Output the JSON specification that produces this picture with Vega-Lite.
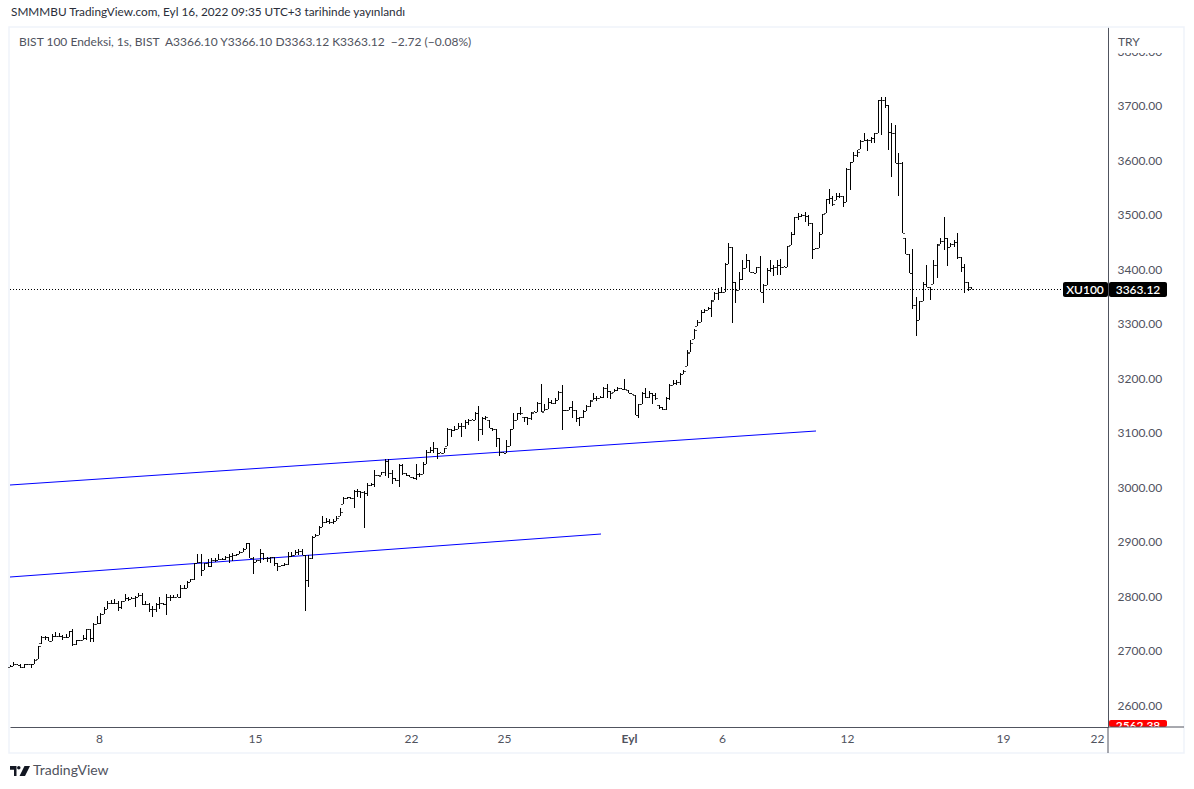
{
  "$schema": "https://vega.github.io/schema/vega-lite/v6.json",
  "width": 1098,
  "height": 700,
  "autosize": {"type": "none"},
  "padding": {"left": 10, "top": 27, "right": 86, "bottom": 62},
  "background": "#ffffff",
  "title": {
    "text": "SMMMBU TradingView.com, Eyl 16, 2022 09:35 UTC+3 tarihinde yayınlandı",
    "anchor": "start",
    "frame": "group",
    "font": "Lato",
    "fontSize": 11.8,
    "fontWeight": "normal",
    "color": "#2a2e39",
    "offset": 7,
    "dx": 1
  },
  "config": {"view": {"stroke": null}, "text": {"font": "Lato"}},
  "datasets": {
    "bars": [
      {"i":0,"o":2670,"h":2673,"l":2670,"c":2672},{"i":1,"o":2672,"h":2679,"l":2671,"c":2675},{"i":2,"o":2675,"h":2676,"l":2673,"c":2674},{"i":3,"o":2674,"h":2675,"l":2668,"c":2669},{"i":4,"o":2669,"h":2676,"l":2668,"c":2675},{"i":5,"o":2675,"h":2676,"l":2673,"c":2675},{"i":6,"o":2675,"h":2676,"l":2668,"c":2675},{"i":7,"o":2675,"h":2684,"l":2675,"c":2682},{"i":8,"o":2685,"h":2708,"l":2685,"c":2708},{"i":9,"o":2713,"h":2727,"l":2712,"c":2724},
      {"i":10,"o":2724,"h":2727,"l":2720,"c":2724},{"i":11,"o":2724,"h":2724,"l":2717,"c":2718},{"i":12,"o":2718,"h":2730,"l":2718,"c":2727},{"i":13,"o":2727,"h":2733,"l":2725,"c":2727},{"i":14,"o":2727,"h":2732,"l":2725,"c":2727},{"i":15,"o":2727,"h":2728,"l":2720,"c":2724},{"i":16,"o":2724,"h":2730,"l":2722,"c":2725},{"i":17,"o":2725,"h":2736,"l":2724,"c":2736},{"i":18,"o":2736,"h":2739,"l":2708,"c":2712},{"i":19,"o":2712,"h":2720,"l":2710,"c":2719},
      {"i":20,"o":2719,"h":2720,"l":2718,"c":2719},{"i":21,"o":2719,"h":2728,"l":2719,"c":2722},{"i":22,"o":2722,"h":2739,"l":2720,"c":2739},{"i":23,"o":2739,"h":2739,"l":2716,"c":2722},{"i":24,"o":2722,"h":2750,"l":2716,"c":2749},{"i":25,"o":2749,"h":2763,"l":2749,"c":2750},{"i":26,"o":2750,"h":2768,"l":2749,"c":2767},{"i":27,"o":2767,"h":2779,"l":2767,"c":2777},{"i":28,"o":2777,"h":2790,"l":2776,"c":2788},{"i":29,"o":2788,"h":2793,"l":2785,"c":2788},
      {"i":30,"o":2788,"h":2794,"l":2785,"c":2788},{"i":31,"o":2788,"h":2790,"l":2773,"c":2780},{"i":32,"o":2780,"h":2791,"l":2777,"c":2790},{"i":33,"o":2790,"h":2804,"l":2790,"c":2796},{"i":34,"o":2796,"h":2798,"l":2790,"c":2794},{"i":35,"o":2794,"h":2798,"l":2794,"c":2796},{"i":36,"o":2796,"h":2800,"l":2780,"c":2798},{"i":37,"o":2798,"h":2806,"l":2798,"c":2802},{"i":38,"o":2802,"h":2805,"l":2783,"c":2785},{"i":39,"o":2785,"h":2791,"l":2783,"c":2785},
      {"i":40,"o":2785,"h":2787,"l":2771,"c":2777},{"i":41,"o":2777,"h":2782,"l":2762,"c":2777},{"i":42,"o":2777,"h":2787,"l":2771,"c":2785},{"i":43,"o":2785,"h":2798,"l":2777,"c":2787},{"i":44,"o":2787,"h":2788,"l":2783,"c":2785},{"i":45,"o":2785,"h":2804,"l":2766,"c":2798},{"i":46,"o":2798,"h":2802,"l":2791,"c":2798},{"i":47,"o":2798,"h":2802,"l":2796,"c":2798},{"i":48,"o":2798,"h":2804,"l":2798,"c":2799},{"i":49,"o":2799,"h":2820,"l":2796,"c":2814},
      {"i":50,"o":2814,"h":2820,"l":2812,"c":2814},{"i":51,"o":2814,"h":2828,"l":2814,"c":2826},{"i":52,"o":2826,"h":2831,"l":2826,"c":2831},{"i":53,"o":2831,"h":2861,"l":2829,"c":2860},{"i":54,"o":2860,"h":2877,"l":2860,"c":2863},{"i":55,"o":2863,"h":2877,"l":2836,"c":2848},{"i":56,"o":2848,"h":2861,"l":2847,"c":2860},{"i":57,"o":2860,"h":2867,"l":2853,"c":2855},{"i":58,"o":2855,"h":2869,"l":2853,"c":2866},{"i":59,"o":2866,"h":2869,"l":2863,"c":2866},
      {"i":60,"o":2866,"h":2877,"l":2866,"c":2867},{"i":61,"o":2867,"h":2869,"l":2866,"c":2867},{"i":62,"o":2867,"h":2873,"l":2866,"c":2871},{"i":63,"o":2871,"h":2877,"l":2860,"c":2873},{"i":64,"o":2873,"h":2878,"l":2865,"c":2875},{"i":65,"o":2875,"h":2877,"l":2873,"c":2877},{"i":66,"o":2877,"h":2883,"l":2877,"c":2881},{"i":67,"o":2881,"h":2888,"l":2881,"c":2886},{"i":68,"o":2886,"h":2897,"l":2886,"c":2897},{"i":69,"o":2897,"h":2897,"l":2869,"c":2869},
      {"i":70,"o":2869,"h":2871,"l":2840,"c":2863},{"i":71,"o":2863,"h":2866,"l":2863,"c":2866},{"i":72,"o":2866,"h":2886,"l":2861,"c":2878},{"i":73,"o":2878,"h":2878,"l":2866,"c":2869},{"i":74,"o":2869,"h":2872,"l":2863,"c":2869},{"i":75,"o":2869,"h":2871,"l":2861,"c":2871},{"i":76,"o":2871,"h":2872,"l":2855,"c":2860},{"i":77,"o":2860,"h":2861,"l":2845,"c":2855},{"i":78,"o":2855,"h":2857,"l":2855,"c":2856},{"i":79,"o":2856,"h":2860,"l":2855,"c":2858},
      {"i":80,"o":2858,"h":2880,"l":2857,"c":2873},{"i":81,"o":2873,"h":2881,"l":2871,"c":2875},{"i":82,"o":2875,"h":2884,"l":2875,"c":2881},{"i":83,"o":2881,"h":2886,"l":2875,"c":2883},{"i":84,"o":2883,"h":2886,"l":2875,"c":2875},{"i":85,"o":2875,"h":2875,"l":2773,"c":2829},{"i":86,"o":2829,"h":2875,"l":2816,"c":2869},{"i":87,"o":2869,"h":2910,"l":2867,"c":2909},{"i":88,"o":2909,"h":2914,"l":2908,"c":2912},{"i":89,"o":2912,"h":2929,"l":2912,"c":2927},
      {"i":90,"o":2927,"h":2946,"l":2927,"c":2936},{"i":91,"o":2936,"h":2943,"l":2933,"c":2938},{"i":92,"o":2938,"h":2941,"l":2932,"c":2936},{"i":93,"o":2936,"h":2941,"l":2932,"c":2938},{"i":94,"o":2938,"h":2946,"l":2938,"c":2944},{"i":95,"o":2947,"h":2961,"l":2947,"c":2955},{"i":96,"o":2969,"h":2982,"l":2969,"c":2979},{"i":97,"o":2979,"h":2982,"l":2978,"c":2981},{"i":98,"o":2981,"h":2982,"l":2978,"c":2979},{"i":99,"o":2979,"h":2995,"l":2961,"c":2992},
      {"i":100,"o":2992,"h":2996,"l":2982,"c":2993},{"i":101,"o":2992,"h":2992,"l":2979,"c":2990},{"i":102,"o":2990,"h":2992,"l":2925,"c":2989},{"i":103,"o":2989,"h":3007,"l":2984,"c":3004},{"i":104,"o":3004,"h":3008,"l":3001,"c":3006},{"i":105,"o":3006,"h":3032,"l":3000,"c":3022},{"i":106,"o":3022,"h":3022,"l":3020,"c":3021},{"i":107,"o":3022,"h":3028,"l":3022,"c":3028},{"i":108,"o":3028,"h":3051,"l":3020,"c":3048},{"i":109,"o":3048,"h":3051,"l":3016,"c":3026},
      {"i":110,"o":3026,"h":3031,"l":3006,"c":3016},{"i":111,"o":3016,"h":3016,"l":3011,"c":3013},{"i":112,"o":3013,"h":3042,"l":3000,"c":3040},{"i":113,"o":3040,"h":3043,"l":3022,"c":3025},{"i":114,"o":3025,"h":3025,"l":3020,"c":3022},{"i":115,"o":3022,"h":3022,"l":3018,"c":3019},{"i":116,"o":3019,"h":3019,"l":3014,"c":3016},{"i":117,"o":3016,"h":3042,"l":3013,"c":3024},{"i":118,"o":3024,"h":3025,"l":3018,"c":3024},{"i":119,"o":3024,"h":3046,"l":3024,"c":3043},
      {"i":120,"o":3043,"h":3068,"l":3043,"c":3065},{"i":121,"o":3065,"h":3074,"l":3062,"c":3068},{"i":122,"o":3068,"h":3083,"l":3062,"c":3071},{"i":123,"o":3071,"h":3071,"l":3052,"c":3063},{"i":124,"o":3063,"h":3064,"l":3062,"c":3063},{"i":125,"o":3063,"h":3071,"l":3063,"c":3071},{"i":126,"o":3075,"h":3108,"l":3075,"c":3106},{"i":127,"o":3106,"h":3106,"l":3092,"c":3104},{"i":128,"o":3104,"h":3112,"l":3103,"c":3106},{"i":129,"o":3106,"h":3118,"l":3106,"c":3111},
      {"i":130,"o":3111,"h":3117,"l":3092,"c":3111},{"i":131,"o":3111,"h":3122,"l":3106,"c":3120},{"i":132,"o":3120,"h":3124,"l":3114,"c":3123},{"i":133,"o":3123,"h":3124,"l":3122,"c":3123},{"i":134,"o":3123,"h":3138,"l":3123,"c":3136},{"i":135,"o":3136,"h":3148,"l":3085,"c":3106},{"i":136,"o":3106,"h":3128,"l":3095,"c":3126},{"i":137,"o":3126,"h":3130,"l":3123,"c":3128},{"i":138,"o":3123,"h":3123,"l":3108,"c":3109},{"i":139,"o":3109,"h":3109,"l":3103,"c":3107},
      {"i":140,"o":3107,"h":3107,"l":3074,"c":3089},{"i":141,"o":3089,"h":3089,"l":3057,"c":3065},{"i":142,"o":3065,"h":3065,"l":3063,"c":3063},{"i":143,"o":3063,"h":3086,"l":3062,"c":3075},{"i":144,"o":3075,"h":3106,"l":3075,"c":3106},{"i":145,"o":3106,"h":3135,"l":3106,"c":3123},{"i":146,"o":3123,"h":3136,"l":3122,"c":3135},{"i":147,"o":3135,"h":3146,"l":3132,"c":3135},{"i":148,"o":3129,"h":3129,"l":3120,"c":3128},{"i":149,"o":3128,"h":3128,"l":3114,"c":3126},
      {"i":150,"o":3126,"h":3138,"l":3123,"c":3136},{"i":151,"o":3137,"h":3139,"l":3137,"c":3138},{"i":152,"o":3138,"h":3156,"l":3138,"c":3155},{"i":153,"o":3155,"h":3189,"l":3138,"c":3138},{"i":154,"o":3140,"h":3153,"l":3140,"c":3144},{"i":155,"o":3144,"h":3164,"l":3144,"c":3156},{"i":156,"o":3156,"h":3159,"l":3153,"c":3155},{"i":157,"o":3155,"h":3163,"l":3153,"c":3160},{"i":158,"o":3160,"h":3177,"l":3160,"c":3175},{"i":159,"o":3175,"h":3187,"l":3104,"c":3141},
      {"i":160,"o":3141,"h":3142,"l":3140,"c":3142},{"i":161,"o":3142,"h":3147,"l":3142,"c":3146},{"i":162,"o":3146,"h":3158,"l":3126,"c":3142},{"i":163,"o":3142,"h":3142,"l":3120,"c":3126},{"i":164,"o":3126,"h":3129,"l":3111,"c":3129},{"i":165,"o":3129,"h":3141,"l":3126,"c":3140},{"i":166,"o":3140,"h":3150,"l":3140,"c":3148},{"i":167,"o":3148,"h":3160,"l":3146,"c":3158},{"i":168,"o":3160,"h":3173,"l":3160,"c":3163},{"i":169,"o":3163,"h":3167,"l":3158,"c":3163},
      {"i":170,"o":3163,"h":3167,"l":3163,"c":3166},{"i":171,"o":3166,"h":3184,"l":3164,"c":3181},{"i":172,"o":3181,"h":3189,"l":3163,"c":3177},{"i":173,"o":3177,"h":3177,"l":3161,"c":3172},{"i":174,"o":3175,"h":3179,"l":3175,"c":3178},{"i":175,"o":3178,"h":3184,"l":3177,"c":3181},{"i":176,"o":3181,"h":3181,"l":3179,"c":3180},{"i":177,"o":3180,"h":3199,"l":3178,"c":3179},{"i":178,"o":3178,"h":3178,"l":3172,"c":3173},{"i":179,"o":3173,"h":3173,"l":3171,"c":3171},
      {"i":180,"o":3169,"h":3169,"l":3132,"c":3132},{"i":181,"o":3132,"h":3153,"l":3126,"c":3153},{"i":182,"o":3153,"h":3175,"l":3153,"c":3172},{"i":183,"o":3172,"h":3181,"l":3163,"c":3166},{"i":184,"o":3166,"h":3177,"l":3163,"c":3173},{"i":185,"o":3173,"h":3173,"l":3153,"c":3169},{"i":186,"o":3169,"h":3173,"l":3160,"c":3163},{"i":187,"o":3150,"h":3150,"l":3144,"c":3146},{"i":188,"o":3146,"h":3146,"l":3142,"c":3144},{"i":189,"o":3144,"h":3166,"l":3142,"c":3163},
      {"i":190,"o":3163,"h":3189,"l":3160,"c":3187},{"i":191,"o":3187,"h":3197,"l":3187,"c":3190},{"i":192,"o":3190,"h":3197,"l":3187,"c":3193},{"i":193,"o":3193,"h":3210,"l":3187,"c":3208},{"i":194,"o":3208,"h":3215,"l":3208,"c":3213},{"i":195,"o":3222,"h":3251,"l":3222,"c":3245},{"i":196,"o":3248,"h":3270,"l":3248,"c":3265},{"i":197,"o":3271,"h":3289,"l":3271,"c":3288},{"i":198,"o":3295,"h":3306,"l":3295,"c":3303},{"i":199,"o":3303,"h":3324,"l":3303,"c":3321},
      {"i":200,"o":3321,"h":3326,"l":3320,"c":3324},{"i":201,"o":3324,"h":3331,"l":3324,"c":3329},{"i":202,"o":3329,"h":3343,"l":3311,"c":3342},{"i":203,"o":3343,"h":3358,"l":3343,"c":3356},{"i":204,"o":3356,"h":3366,"l":3344,"c":3358},{"i":205,"o":3358,"h":3367,"l":3356,"c":3358},{"i":206,"o":3358,"h":3411,"l":3358,"c":3410},{"i":207,"o":3410,"h":3448,"l":3409,"c":3440},{"i":208,"o":3440,"h":3440,"l":3300,"c":3376},{"i":209,"o":3376,"h":3376,"l":3337,"c":3361},
      {"i":210,"o":3361,"h":3395,"l":3361,"c":3381},{"i":211,"o":3381,"h":3416,"l":3380,"c":3401},{"i":212,"o":3401,"h":3427,"l":3401,"c":3417},{"i":213,"o":3417,"h":3417,"l":3395,"c":3395},{"i":214,"o":3395,"h":3395,"l":3392,"c":3392},{"i":215,"o":3392,"h":3403,"l":3392,"c":3403},{"i":216,"o":3403,"h":3424,"l":3358,"c":3358},{"i":217,"o":3358,"h":3373,"l":3338,"c":3370},{"i":218,"o":3370,"h":3401,"l":3370,"c":3399},{"i":219,"o":3399,"h":3416,"l":3395,"c":3401},
      {"i":220,"o":3401,"h":3407,"l":3387,"c":3404},{"i":221,"o":3404,"h":3417,"l":3389,"c":3407},{"i":222,"o":3407,"h":3419,"l":3389,"c":3404},{"i":223,"o":3404,"h":3405,"l":3403,"c":3404},{"i":224,"o":3404,"h":3442,"l":3404,"c":3442},{"i":225,"o":3444,"h":3468,"l":3444,"c":3464},{"i":226,"o":3464,"h":3496,"l":3462,"c":3495},{"i":227,"o":3495,"h":3502,"l":3490,"c":3497},{"i":228,"o":3497,"h":3501,"l":3496,"c":3499},{"i":229,"o":3499,"h":3505,"l":3487,"c":3497},
      {"i":230,"o":3497,"h":3499,"l":3478,"c":3484},{"i":231,"o":3484,"h":3484,"l":3419,"c":3436},{"i":232,"o":3436,"h":3438,"l":3436,"c":3438},{"i":233,"o":3438,"h":3468,"l":3438,"c":3465},{"i":234,"o":3465,"h":3501,"l":3465,"c":3501},{"i":235,"o":3502,"h":3529,"l":3502,"c":3528},{"i":236,"o":3528,"h":3546,"l":3520,"c":3530},{"i":237,"o":3530,"h":3533,"l":3515,"c":3520},{"i":238,"o":3526,"h":3539,"l":3526,"c":3534},{"i":239,"o":3534,"h":3540,"l":3530,"c":3534},
      {"i":240,"o":3534,"h":3534,"l":3514,"c":3522},{"i":241,"o":3522,"h":3585,"l":3522,"c":3583},{"i":242,"o":3583,"h":3597,"l":3545,"c":3597},{"i":243,"o":3597,"h":3615,"l":3597,"c":3609},{"i":244,"o":3609,"h":3618,"l":3606,"c":3615},{"i":245,"o":3621,"h":3637,"l":3621,"c":3634},{"i":246,"o":3634,"h":3649,"l":3634,"c":3637},{"i":247,"o":3637,"h":3638,"l":3617,"c":3637},{"i":248,"o":3637,"h":3643,"l":3632,"c":3640},{"i":249,"o":3640,"h":3650,"l":3631,"c":3649},
      {"i":250,"o":3650,"h":3710,"l":3650,"c":3710},{"i":251,"o":3710,"h":3715,"l":3646,"c":3710},{"i":252,"o":3710,"h":3715,"l":3695,"c":3701},{"i":253,"o":3701,"h":3701,"l":3618,"c":3652},{"i":254,"o":3652,"h":3667,"l":3569,"c":3649},{"i":255,"o":3649,"h":3664,"l":3594,"c":3594},{"i":256,"o":3594,"h":3612,"l":3534,"c":3594},{"i":257,"o":3594,"h":3597,"l":3466,"c":3466},{"i":258,"o":3456,"h":3456,"l":3428,"c":3428},{"i":259,"o":3428,"h":3428,"l":3393,"c":3393},
      {"i":260,"o":3393,"h":3436,"l":3326,"c":3334},{"i":261,"o":3334,"h":3349,"l":3277,"c":3306},{"i":262,"o":3306,"h":3342,"l":3306,"c":3342},{"i":263,"o":3342,"h":3376,"l":3342,"c":3373},{"i":264,"o":3373,"h":3407,"l":3367,"c":3367},{"i":265,"o":3367,"h":3367,"l":3344,"c":3364},{"i":266,"o":3372,"h":3416,"l":3372,"c":3407},{"i":267,"o":3407,"h":3446,"l":3383,"c":3444},{"i":268,"o":3446,"h":3456,"l":3446,"c":3451},{"i":269,"o":3451,"h":3495,"l":3435,"c":3456},
      {"i":270,"o":3456,"h":3456,"l":3405,"c":3441},{"i":271,"o":3441,"h":3447,"l":3440,"c":3446},{"i":272,"o":3446,"h":3453,"l":3441,"c":3450},{"i":273,"o":3450,"h":3466,"l":3419,"c":3422},{"i":274,"o":3422,"h":3422,"l":3395,"c":3404},{"i":275,"o":3404,"h":3410,"l":3356,"c":3376},{"i":276,"o":3376,"h":3376,"l":3360,"c":3364},{"i":277,"o":3366.1,"h":3366.1,"l":3363.12,"c":3363.12}
    ],
    "trend": [
      {"line":"a","i":0,"price":3003.6},{"line":"a","i":232.3,"price":3102.7},
      {"line":"b","i":0,"price":2834.8},{"line":"b","i":170.3,"price":2913.7}
    ],
    "boxes": [
      {"i":303.5,"i2":316.4,"p":3376,"p2":3348.6,"fill":"black"},
      {"i":316.7,"i2":333.4,"p":3376,"p2":3348.6,"fill":"black"},
      {"i":316.7,"i2":333.4,"p":2573,"p2":2559.6,"fill":"red"}
    ],
    "masks": [
      {"i":316.7,"i2":337.9,"p":3843,"p2":3797}
    ],
    "labels": [
      {"i":309.9,"p":3362.3,"text":"XU100","color":"#ffffff"},
      {"i":325,"p":3362.3,"text":"3363.12","color":"#ffffff"},
      {"i":325,"p":2561,"text":"2562.38","color":"#ffffff"}
    ],
    "notes": [
      {"i":2.5,"p":3816.5,"text":"BIST 100 Endeksi, 1s, BIST\u00a0 A3366.10 Y3366.10 D3363.12 K3363.12\u00a0 −2.72 (−0.08%)"},
      {"i":319.3,"p":3816.5,"text":"TRY"}
    ]
  },
  "layer": [
    {
      "data": {"values": [{"i": -0.15, "i2": 338.2, "p": 3844.5, "p2": 2512}]},
      "mark": {"type": "rect", "fill": null, "stroke": "#f0f3fa", "strokeWidth": 1.5},
      "encoding": {
        "x": {"field": "i", "type": "quantitative", "scale": {"domain": [0, 316.4], "nice": false, "zero": false, "round": true}, "axis": {
          "title": null, "grid": false, "ticks": false, "zindex": 1,
          "values": [25.65, 70.6, 115.6, 142.4, 178.4, 205.2, 241.2, 286.1, 313.2],
          "labelExpr": "{'25.65':'8','70.6':'15','115.6':'22','142.4':'25','178.4':'Eyl','205.2':'6','241.2':'12','286.1':'19','313.2':'22'}[datum.value]",
          "labelFont": "Lato", "labelFontSize": 12, "labelColor": "#50535e", "labelPadding": 6, "labelOverlap": false, "labelFlush": false,
          "labelFontWeight": {"condition": {"test": "datum.value == 178.4", "value": "bold"}, "value": "normal"},
          "domainColor": "#50535e", "domainWidth": 1
        }},
        "x2": {"field": "i2"},
        "y": {"field": "p", "type": "quantitative", "scale": {"domain": [2559.6, 3844], "nice": false, "zero": false, "round": true}, "axis": {
          "title": null, "orient": "right", "grid": false, "ticks": false,
          "values": [2600, 2700, 2800, 2900, 3000, 3100, 3200, 3300, 3400, 3500, 3600, 3700, 3800],
          "format": ".2f", "labelFont": "Lato", "labelFontSize": 12, "labelColor": "#50535e", "labelPadding": 9, "labelOverlap": false, "labelFlush": false,
          "domainColor": "#50535e", "domainWidth": 1
        }},
        "y2": {"field": "p2"}
      }
    },
    {
      "data": {"name": "masks"},
      "mark": {"type": "rect", "fill": "#ffffff"},
      "encoding": {"x": {"field": "i", "type": "quantitative"}, "x2": {"field": "i2"}, "y": {"field": "p", "type": "quantitative"}, "y2": {"field": "p2"}}
    },
    {
      "data": {"name": "trend"},
      "mark": {"type": "line", "color": "#0000ff", "strokeWidth": 1},
      "encoding": {"x": {"field": "i", "type": "quantitative"}, "y": {"field": "price", "type": "quantitative"}, "detail": {"field": "line"}}
    },
    {
      "data": {"values": [{"p": 3363.12, "i": 0, "i2": 303.5}]},
      "mark": {"type": "rule", "color": "#000000", "strokeWidth": 1, "strokeDash": [1, 2], "yOffset": 0.5},
      "encoding": {"x": {"field": "i", "type": "quantitative"}, "x2": {"field": "i2"}, "y": {"field": "p", "type": "quantitative"}}
    },
    {
      "data": {"name": "bars"},
      "mark": {"type": "rule", "color": "#000000", "strokeWidth": 1, "xOffset": 0.5},
      "encoding": {"x": {"field": "i", "type": "quantitative"}, "y": {"field": "l", "type": "quantitative"}, "y2": {"field": "h"}}
    },
    {
      "data": {"name": "bars"},
      "mark": {"type": "tick", "orient": "horizontal", "color": "#000000", "size": 2, "thickness": 1, "xOffset": -1, "yOffset": 0.5},
      "encoding": {"x": {"field": "i", "type": "quantitative"}, "y": {"field": "o", "type": "quantitative"}}
    },
    {
      "data": {"name": "bars"},
      "mark": {"type": "tick", "orient": "horizontal", "color": "#000000", "size": 2, "thickness": 1, "xOffset": 2, "yOffset": 0.5},
      "encoding": {"x": {"field": "i", "type": "quantitative"}, "y": {"field": "c", "type": "quantitative"}}
    },
    {
      "data": {"name": "boxes"},
      "mark": {"type": "rect", "cornerRadius": 2},
      "encoding": {
        "x": {"field": "i", "type": "quantitative"}, "x2": {"field": "i2"},
        "y": {"field": "p", "type": "quantitative"}, "y2": {"field": "p2"},
        "fill": {"field": "fill", "type": "nominal", "scale": null}
      }
    },
    {
      "data": {"name": "labels"},
      "mark": {"type": "text", "fontSize": 12, "fontWeight": 600, "align": "center", "baseline": "middle"},
      "encoding": {
        "x": {"field": "i", "type": "quantitative"}, "y": {"field": "p", "type": "quantitative"},
        "text": {"field": "text"}, "color": {"field": "color", "type": "nominal", "scale": null}
      }
    },
    {
      "data": {"values": [{"i": 316.7, "i2": 337.9, "p": 2559.6, "p2": 2548}]},
      "mark": {"type": "rect", "fill": "#ffffff"},
      "encoding": {"x": {"field": "i", "type": "quantitative"}, "x2": {"field": "i2"}, "y": {"field": "p", "type": "quantitative"}, "y2": {"field": "p2"}}
    },
    {
      "data": {"values": [{"i": 316.4, "i2": 338.2, "p": 2559.6}]},
      "mark": {"type": "rule", "color": "#50535e", "strokeWidth": 1},
      "encoding": {"x": {"field": "i", "type": "quantitative"}, "x2": {"field": "i2"}, "y": {"field": "p", "type": "quantitative"}}
    },
    {
      "data": {"values": [{"i": 316.4, "p": 2559.6, "p2": 2512}]},
      "mark": {"type": "rule", "color": "#50535e", "strokeWidth": 1},
      "encoding": {"x": {"field": "i", "type": "quantitative"}, "y": {"field": "p", "type": "quantitative"}, "y2": {"field": "p2"}}
    },
    {
      "data": {"name": "notes"},
      "mark": {"type": "text", "fontSize": 12, "align": "left", "baseline": "middle", "color": "#50535e"},
      "encoding": {"x": {"field": "i", "type": "quantitative"}, "y": {"field": "p", "type": "quantitative"}, "text": {"field": "text"}}
    },
    {
      "data": {"values": [{"i": 6.6, "p": 2479, "text": "TradingView"}]},
      "mark": {"type": "text", "fontSize": 14, "align": "left", "baseline": "middle", "color": "#50535e"},
      "encoding": {"x": {"field": "i", "type": "quantitative"}, "y": {"field": "p", "type": "quantitative"}, "text": {"field": "text"}}
    },
    {
      "data": {"values": [{"i": 2.8, "p": 2479}]},
      "mark": {"type": "point", "filled": true, "opacity": 1, "color": "#131722", "size": 400,
        "shape": "M-1,-0.5H-0.35V0.5H-0.6V-0.12H-1Z M-0.12,-0.5A0.17,0.17 0 1 1 -0.12,-0.16A0.17,0.17 0 1 1 -0.12,-0.5Z M0.45,-0.5H1L0.5,0.5H-0.05Z"},
      "encoding": {"x": {"field": "i", "type": "quantitative"}, "y": {"field": "p", "type": "quantitative"}}
    }
  ]
}
